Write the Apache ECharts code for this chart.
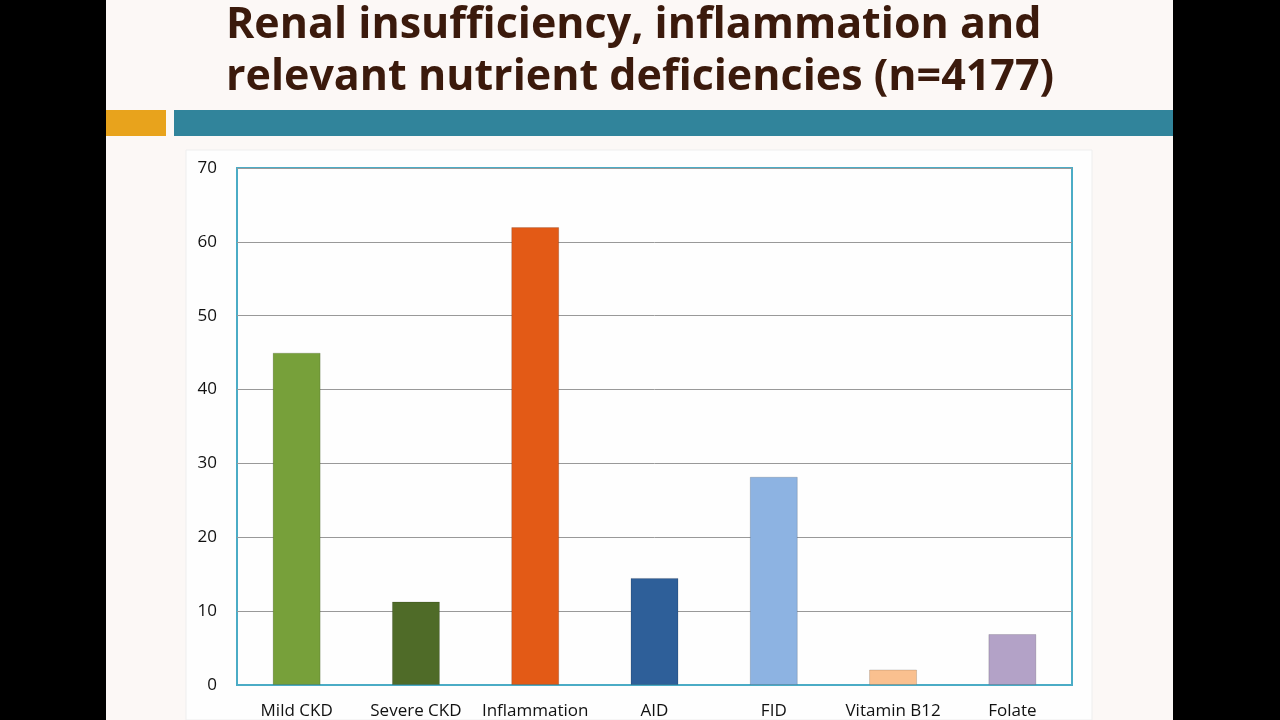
<!DOCTYPE html>
<html><head><meta charset="utf-8">
<script src="https://cdn.jsdelivr.net/npm/echarts@6/dist/echarts.min.js"></script>
<style>html,body{margin:0;padding:0;background:#000;}#c{width:1280px;height:720px;}</style>
</head><body><div id="c"></div>
<script>
var categories = ['Mild CKD','Severe CKD','Inflammation','AID','FID','Vitamin B12','Folate'];
var values     = [45.0, 11.3, 62.0, 14.5, 28.2, 2.1, 6.9];
var barColors  = ['#77a03a','#4f6b28','#e35a16','#2e5f99','#8db3e2','#fac08f','#b3a2c7'];

var chart = echarts.init(document.getElementById('c'));
chart.setOption({
	backgroundColor: '#000',
	animation: false,
	graphic: [
		{type:'rect', shape:{x:106,y:0,width:1067,height:720}, style:{fill:'#fcf8f6'}, z:-10},
		{type:'rect', shape:{x:186,y:150,width:906,height:570}, style:{fill:'#fefefe', stroke:'#eeeeee'}, z:-9},
		{type:'rect', shape:{x:106,y:110,width:60,height:26}, style:{fill:'#e8a31c'}},
		{type:'rect', shape:{x:174,y:110,width:999,height:26}, style:{fill:'#31849b'}},
		{type:'text', left:'center', top:0, style:{text:'Renal insufficiency, inflammation and\nrelevant nutrient deficiencies (n=4177)',
			font:'bold 43px "Open Sans", sans-serif', fill:'#3b1a0c', align:'center', lineHeight:52}}
	],
	grid: {left:237, right:208, top:168, bottom:34, show:true, borderColor:'#4bacc6', borderWidth:2, backgroundColor:'transparent'},
	xAxis: {type:'category', data:categories, axisTick:{show:false},
		axisLine:{lineStyle:{color:'#4bacc6', width:2}},
		axisLabel:{color:'#111', fontSize:17, fontFamily:'"Open Sans", sans-serif', margin:18, interval:0}},
	yAxis: {type:'value', min:0, max:70, interval:10,
		axisLine:{show:false}, axisTick:{show:false},
		splitLine:{lineStyle:{color:'#999', width:1}},
		axisLabel:{color:'#111', fontSize:17, fontFamily:'"Open Sans", sans-serif', margin:20}},
	series: [{type:'bar', barWidth:48,
		data: values.map(function(v,i){return {value:v, itemStyle:{color:barColors[i], borderColor:'rgba(0,0,0,0.15)', borderWidth:1}};})}]
});
</script></body></html>
